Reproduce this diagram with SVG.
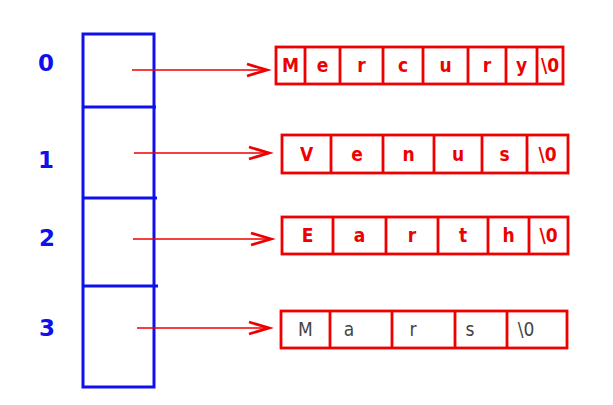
<svg xmlns="http://www.w3.org/2000/svg" width="613" height="405" viewBox="0 0 613 405">
<style>
.blue{fill:none;stroke:#1010ee;stroke-width:3}
.idx{font-family:"DejaVu Sans",sans-serif;font-weight:bold;font-size:23px;fill:#1010ee;text-anchor:middle}
.box{fill:#fff;stroke:#ee0000;stroke-width:2.8}
.ch{font-family:"DejaVu Sans Condensed","DejaVu Sans",sans-serif;font-weight:bold;font-size:19px;fill:#ee0000;text-anchor:middle}
.gray{fill:#444;font-weight:normal}
.conn{stroke:#ee0000;stroke-width:1.6;fill:none}
.head{stroke:#ee0000;stroke-width:2.8;fill:none;stroke-linejoin:miter}
</style>
<rect width="613" height="405" fill="#fff"/>
<g id="pointer-array">
<rect class="blue" x="83" y="34" width="71" height="353"/>
<line class="blue" x1="83" y1="107" x2="156" y2="107"/>
<line class="blue" x1="83" y1="198" x2="157" y2="198"/>
<line class="blue" x1="83" y1="286" x2="158" y2="286"/>
<text class="idx" x="46" y="71">0</text>
<text class="idx" x="46" y="168">1</text>
<text class="idx" x="47" y="246">2</text>
<text class="idx" x="47" y="336">3</text>
</g>
<g id="connectors">
<line class="conn" x1="132" y1="70" x2="266" y2="70"/>
<path class="head" d="M247 64 L267 70 L247 76"/>
<line class="conn" x1="134" y1="153" x2="268" y2="153"/>
<path class="head" d="M249 147 L269 153 L249 159"/>
<line class="conn" x1="133" y1="239" x2="270" y2="239"/>
<path class="head" d="M251 233 L271 239 L251 245"/>
<line class="conn" x1="137" y1="328" x2="268" y2="328"/>
<path class="head" d="M249 322 L269 328 L249 334"/>
</g>
<g id="mercury">
<rect class="box" x="276" y="47" width="287" height="37"/>
<path class="box" d="M305 47V84M340 47V84M383 47V84M423 47V84M468 47V84M506 47V84M537 47V84"/>
<text class="ch" x="290.5" y="72">M</text>
<text class="ch" x="322.5" y="72">e</text>
<text class="ch" x="361.5" y="72">r</text>
<text class="ch" x="403" y="72">c</text>
<text class="ch" x="445.5" y="72">u</text>
<text class="ch" x="487" y="72">r</text>
<text class="ch" x="521.5" y="72">y</text>
<text class="ch" x="550" y="72">\0</text>
</g>
<g id="venus">
<rect class="box" x="282" y="135" width="286" height="38"/>
<path class="box" d="M331 135V173M383 135V173M434 135V173M482 135V173M527 135V173"/>
<text class="ch" x="306.5" y="161">V</text>
<text class="ch" x="357" y="161">e</text>
<text class="ch" x="408.5" y="161">n</text>
<text class="ch" x="458" y="161">u</text>
<text class="ch" x="504.5" y="161">s</text>
<text class="ch" x="547.5" y="161">\0</text>
</g>
<g id="earth">
<rect class="box" x="282" y="217" width="286" height="37"/>
<path class="box" d="M333 217V254M386 217V254M438 217V254M488 217V254M529 217V254"/>
<text class="ch" x="307.5" y="242">E</text>
<text class="ch" x="359.5" y="242">a</text>
<text class="ch" x="412" y="242">r</text>
<text class="ch" x="463" y="242">t</text>
<text class="ch" x="508.5" y="242">h</text>
<text class="ch" x="548.5" y="242">\0</text>
</g>
<g id="mars">
<rect class="box" x="281" y="311" width="286" height="37"/>
<path class="box" d="M330 311V348M392 311V348M455 311V348M507 311V348"/>
<text class="ch gray" x="305.5" y="336">M</text>
<text class="ch gray" x="349" y="336">a</text>
<text class="ch gray" x="413" y="336">r</text>
<text class="ch gray" x="470" y="336">s</text>
<text class="ch gray" x="526" y="336">\0</text>
</g>
</svg>
